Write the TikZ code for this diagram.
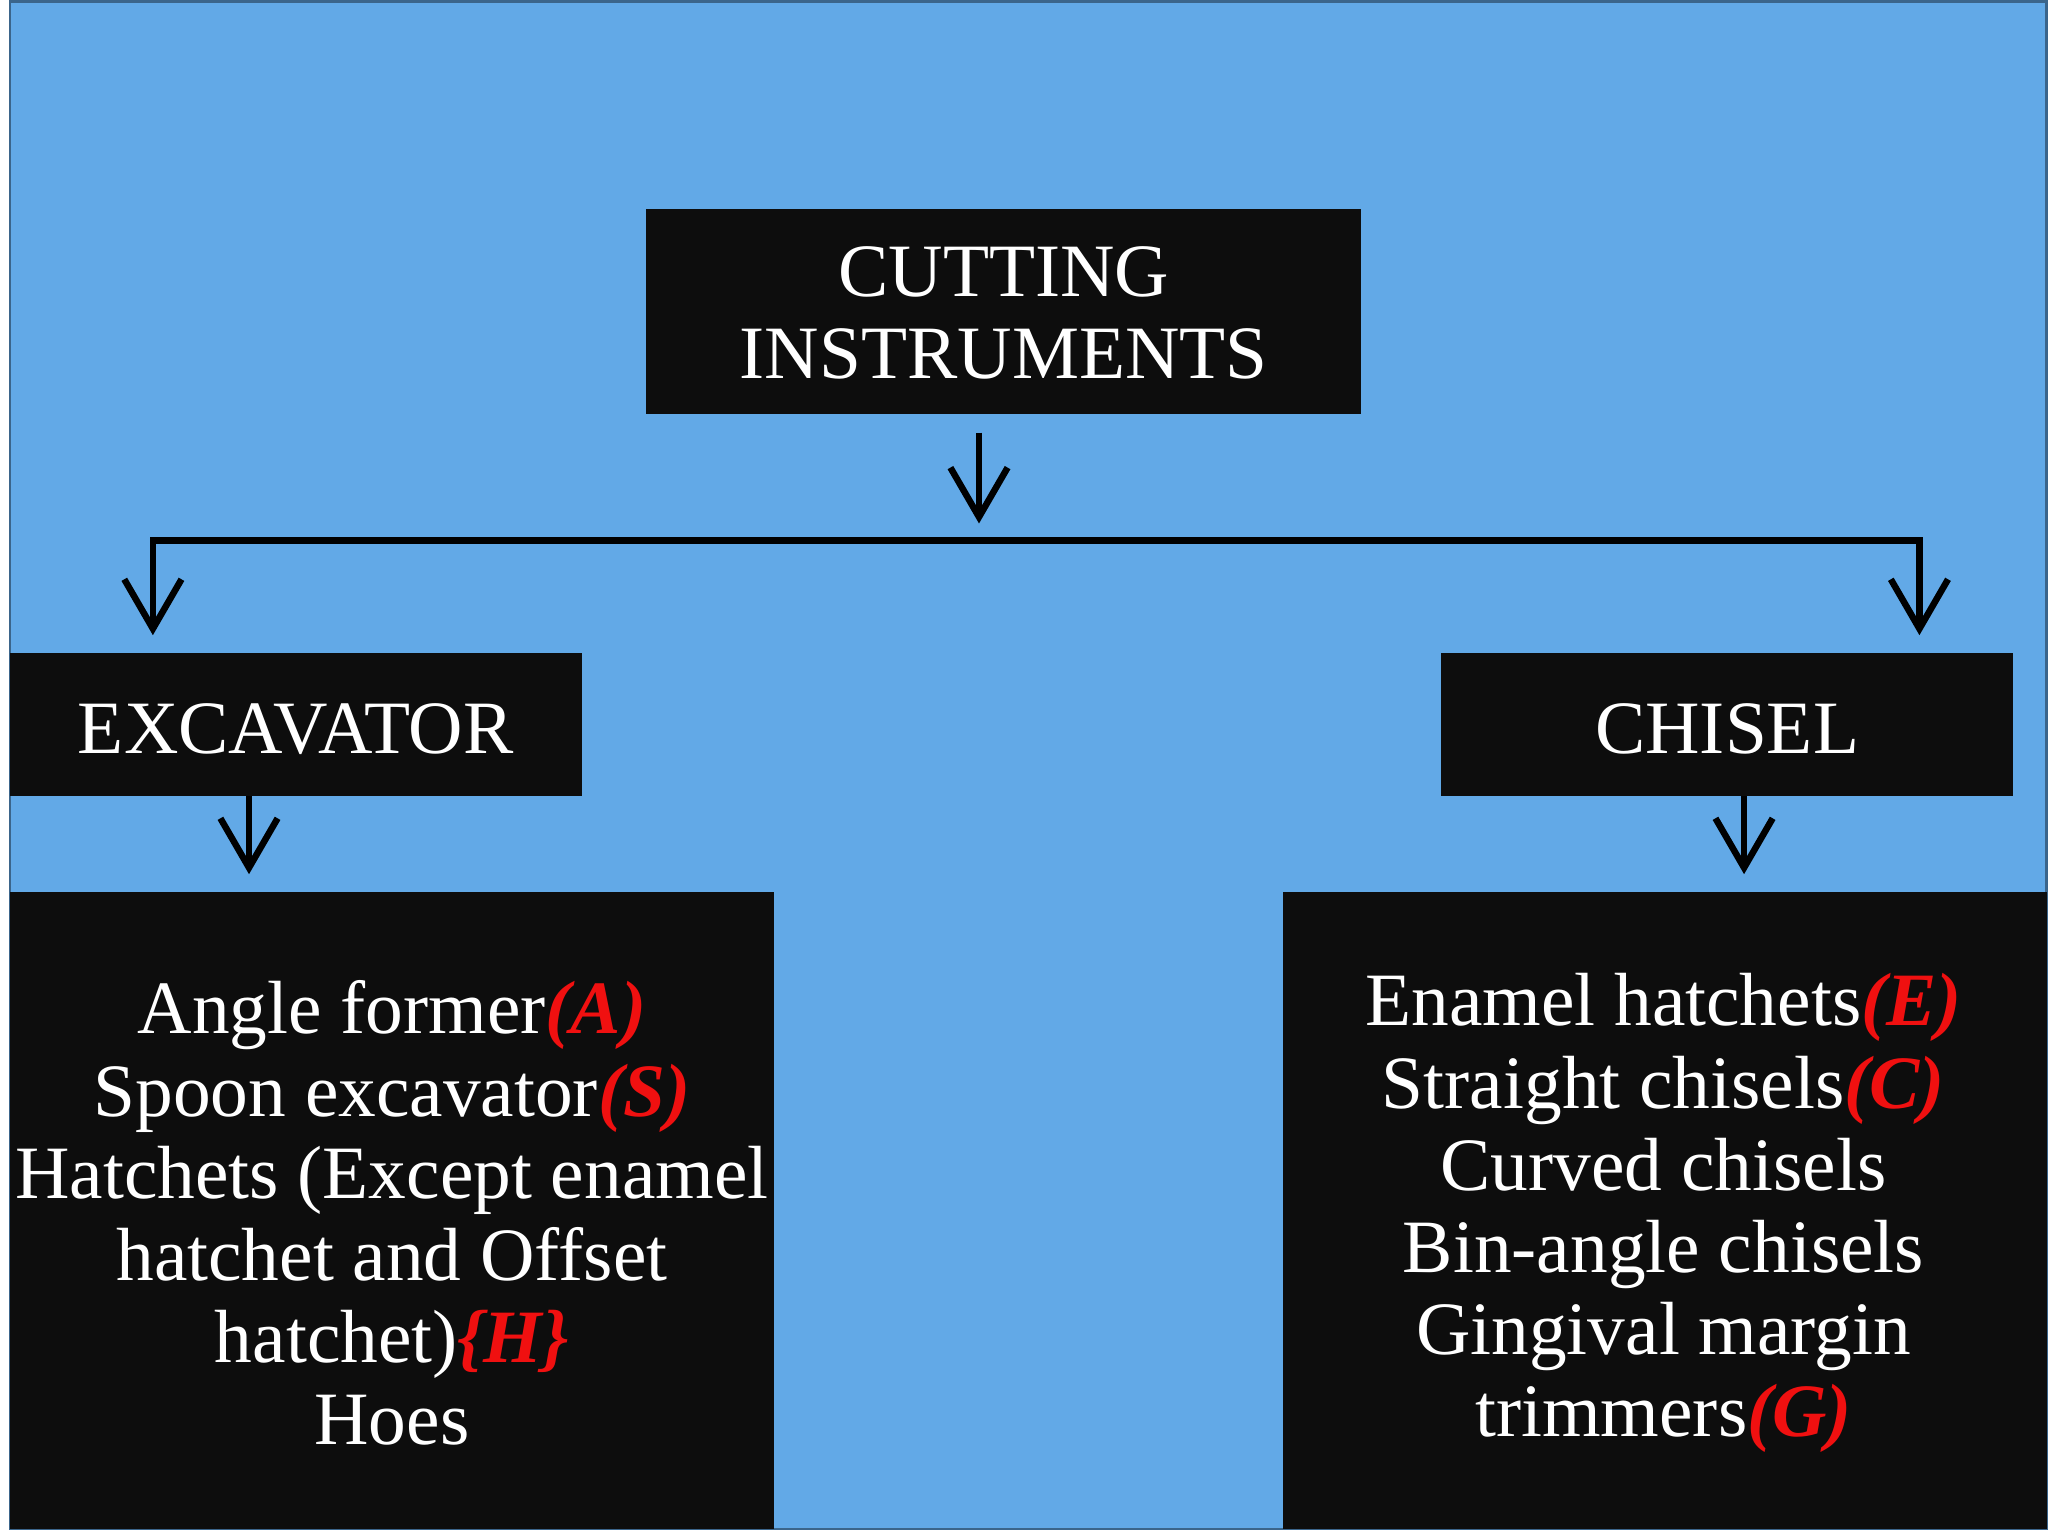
\documentclass[tikz,border=0pt]{standalone}
\usepackage{fontspec}
\setmainfont{Liberation Serif}
\usetikzlibrary{arrows.meta}
\definecolor{bgblue}{HTML}{62A9E7}
\definecolor{boxblack}{HTML}{0D0D0D}
\definecolor{redtxt}{HTML}{F01010}
\newcommand{\rd}[1]{\textcolor{redtxt}{\textbf{\textit{#1}}}}
\begin{document}
\begin{tikzpicture}[x=0.01cm,y=-0.01cm,
  blk/.style={fill=boxblack,draw=none},
  lbl/.style={text=white,align=center,font=\fontsize{16.5}{18}\selectfont},
  conn/.style={line width=0.05cm,-{Straight Barb[length=0.38cm,width=0.44cm,line width=0.05cm]}},
  plain/.style={line width=0.05cm}]
\fill[bgblue] (0,0) rectangle (1568,1176);
\draw[line width=0.02cm,color=bgblue!60!black] (0,0) rectangle (1568,1176);
\fill[blk] (490,160) rectangle (1040,318);
\node[lbl] (top) at (765,240) {CUTTING\\INSTRUMENTS};
\coordinate (tb) at (746,332);
\fill[blk] (0,502) rectangle (440,612);
\node[lbl] (exc) at (220,560) {EXCAVATOR};
\fill[blk] (1102,502) rectangle (1542,612);
\node[lbl] (chi) at (1322,560) {CHISEL};
\fill[blk] (0,686) rectangle (588,1176);
\fill[blk] (980,686) rectangle (1568,1176);
\node[lbl] (left) at (294,933) {Angle former\rd{(A)}\\Spoon excavator\rd{(S)}\\Hatchets (Except enamel\\hatchet and Offset\\hatchet)\rd{\{H\}}\\Hoes};
\node[lbl] (right) at (1273,933) {Enamel hatchets\rd{(E)}\\Straight chisels\rd{(C)}\\Curved chisels\\Bin-angle chisels\\Gingival margin\\trimmers\rd{(G)}};
\coordinate (ta) at (746,402);
\coordinate (hl) at (110,415);
\coordinate (hr) at (1470,415);
\coordinate (la) at (110,488);
\coordinate (ra) at (1470,488);
\coordinate (eb) at (184,612);
\coordinate (ea) at (184,672);
\coordinate (cb) at (1335,612);
\coordinate (ca) at (1335,672);
\draw[conn] (tb) -- (ta);
\draw[plain] (hl) -- (hr);
\draw[conn] ([yshift=0.025cm]hl) -- (la);
\draw[conn] ([yshift=0.025cm]hr) -- (ra);
\draw[conn] (eb) -- (ea);
\draw[conn] (cb) -- (ca);
\end{tikzpicture}
\end{document}
